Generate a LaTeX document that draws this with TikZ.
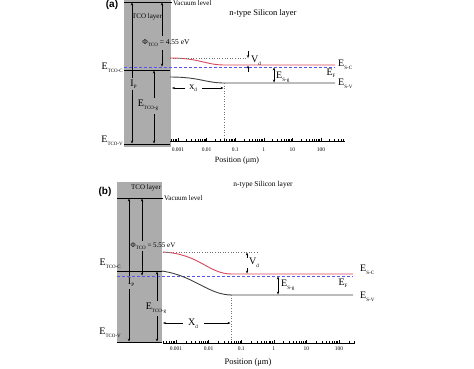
\documentclass[tikz,border=0pt]{standalone}
\usepackage{fontspec}
\setmainfont{Liberation Serif}
\newfontfamily\panelfont{Liberation Sans}
\usetikzlibrary{arrows.meta}
\definecolor{boxgray}{RGB}{172,172,172}
\definecolor{cbred}{RGB}{215,70,90}
\definecolor{fermiblue}{RGB}{85,85,240}
\newcommand\lbl[2]{#1\raisebox{-0.55ex}{\fontsize{5}{5}\selectfont #2}}
\begin{document}
\begin{tikzpicture}[x=1pt,y=-1pt,
  level/.style={line width=0.9pt},
  arr/.style={line width=0.4pt,-{Stealth[length=3pt,width=2.2pt]}},
  darr/.style={line width=0.4pt,{Stealth[length=3pt,width=2.2pt]}-{Stealth[length=3pt,width=2.2pt]}},
  cband/.style={cbred,line width=0.9pt},
  vband/.style={black!75,line width=0.9pt},
  fermi/.style={fermiblue,line width=0.8pt,dash pattern=on 3pt off 2pt},
  guide/.style={black!55,line width=0.6pt,dotted},
  txt/.style={inner sep=0pt,font=\fontsize{7}{8}\selectfont},
  elab/.style={inner sep=0pt,font=\fontsize{10}{10}\selectfont},
  ticklab/.style={inner sep=0pt,font=\fontsize{5.5}{6}\selectfont},
  axlab/.style={inner sep=0pt,font=\fontsize{8}{9}\selectfont},
  panel/.style={inner sep=0pt,font=\panelfont\bfseries\fontsize{10}{11}\selectfont}]
\useasboundingbox (0,0) rectangle (474,368);

%%%%%%%%%%%%%%%% panel (a)
\fill[boxgray] (124,0) rectangle (171,147);
\draw[level] (124,2) -- (172,2);
\draw[level] (124,70) -- (170,70);
\draw[level] (124,144) -- (170,144);
\node[panel] (pa) at (112,5) {(a)};
\node[txt,anchor=west] (vaca) at (173,3.5) {Vacuum level};
\node[txt] (tcoa) at (147,17) {TCO layer};
\node[axlab,font=\fontsize{8.5}{9}\selectfont] (sia) at (263,13) {n-type Silicon layer};
% bands
\draw[fermi] (124,67) -- (335,67);
\draw[cband] (170,58) .. controls (200,58) and (205,65) .. (225,65) -- (335,65);
\draw[vband] (170,77) .. controls (200,77) and (205,83) .. (225,83) -- (335,83);
\draw[guide] (170,58) -- (248,58);
\draw[arr] (248,51) -- (248,58);
\draw[arr] (248,72) -- (248,65.5);
\node[elab,anchor=west] (vda) at (251,61) {\lbl{V}{d}};
\draw[darr] (274,67.5) -- (274,82.5);
\node[elab,anchor=west] (esga) at (276,77) {\lbl{E}{S-g}};
\node[elab,anchor=west] (esca) at (338,65) {\lbl{E}{S-C}};
\node[elab] (efa) at (331,73) {\lbl{E}{F}};
\node[elab,anchor=west] (esva) at (338,84) {\lbl{E}{S-V}};
% x_d
\draw[guide] (224,83) -- (224,141);
\node[elab] (xda) at (193,88) {\lbl{x}{d}};
\draw[arr] (185,88) -- (172,88);
\draw[arr] (202,88) -- (223.5,88);
% TCO side
\node[elab,anchor=east] (etca) at (123,68) {\lbl{E}{TCO-C}};
\node[elab,anchor=east] (etva) at (123,141) {\lbl{E}{TCO-V}};
\draw[arr] (132,78) -- (132,2.5);
\draw[arr] (132,90) -- (132,143.5);
\node[elab] (ipa) at (133.5,84) {\lbl{I}{P}};
\draw[arr] (162,36) -- (162,2.5);
\draw[arr] (162,50) -- (162,66.5);
\node[txt,font=\fontsize{7.5}{8}\selectfont] (phia) at (166,43) {\lbl{Φ}{TCO} = 4.55 eV};
\draw[arr] (154,98) -- (154,70.5);
\draw[arr] (154,114) -- (154,143.5);
\node[elab] (etga) at (148,105) {\lbl{E}{TCO-g}};
% axis
\draw[line width=0.5pt] (170,141) -- (345,141);
\foreach \k in {-1,...,5}{
  \foreach \m in {1,...,9}{
    \pgfmathsetmacro\xx{178+28.6*(\k+log10(\m))}
    \ifdim\xx pt>170pt \ifdim\xx pt<345pt
      \ifnum\m=1 \draw[line width=0.4pt] (\xx,141) -- ++(0,-3.5);
      \else \draw[line width=0.4pt] (\xx,141) -- ++(0,-2); \fi
    \fi\fi
  }
}
\foreach \lab [count=\i from 0] in {0.001,0.01,0.1,1,10,100}
  \node[ticklab] (ta\i) at ({178+28.6*\i},150) {\lab};
\node[axlab] (posa) at (237,161) {Position (μm)};

%%%%%%%%%%%%%%%% panel (b)
\fill[boxgray] (117,182) rectangle (162,343);
\draw[level] (117,198) -- (163,198);
\draw[level] (117,271) -- (162,271);
\draw[level] (117,342) -- (162,342);
\node[panel] (pb) at (105,192) {(b)};
\node[txt,anchor=west] (vacb) at (164,198) {Vacuum level};
\node[txt] (tcob) at (146,188) {TCO layer};
\node[axlab,font=\fontsize{7.5}{8}\selectfont] (sib) at (263,185) {n-type Silicon layer};
% bands
\draw[fermi] (117,276) -- (353,276);
\draw[cband] (163,252) .. controls (200,254) and (208,274) .. (232,274) -- (353,274);
\draw[vband] (162,271) .. controls (195,276) and (208,295) .. (232,295) -- (353,295);
\draw[guide] (163,252) -- (257,252);
\draw[arr] (247,258) -- (247,252.5);
\draw[arr] (247,268) -- (247,273.5);
\node[elab,anchor=west] (vdb) at (249,263) {\lbl{V}{d}};
\draw[darr] (278,276.5) -- (278,294.5);
\node[elab,anchor=west] (esgb) at (281,285) {\lbl{E}{S-g}};
\node[elab,anchor=west] (escb) at (360,270) {\lbl{E}{S-C}};
\node[elab] (efb) at (343,283) {\lbl{E}{F}};
\node[elab,anchor=west] (esvb) at (360,297) {\lbl{E}{S-V}};
% X_d
\draw[guide] (231,295) -- (231,343);
\node[elab] (xdb) at (193,324) {\lbl{X}{d}};
\draw[arr] (183,323) -- (163,323);
\draw[arr] (204,323) -- (230.5,323);
% TCO side
\node[elab,anchor=east] (etcb) at (121,264) {\lbl{E}{TCO-C}};
\node[elab,anchor=east] (etvb) at (121,333) {\lbl{E}{TCO-V}};
\draw[arr] (129,276) -- (129,198.5);
\draw[arr] (129,289) -- (129,341.5);
\node[elab] (ipb) at (131,282) {\lbl{I}{P}};
\draw[arr] (142,241) -- (142,198.5);
\draw[arr] (142,251) -- (142,275.5);
\node[txt,font=\fontsize{7}{8}\selectfont] (phib) at (153,246) {\lbl{Φ}{TCO} = 5.55 eV};
\draw[arr] (157,301) -- (157,271.5);
\draw[arr] (157,316) -- (157,341.5);
\node[elab] (etgb) at (156,308) {\lbl{E}{TCO-g}};
% axis
\draw[line width=0.5pt] (163,343) -- (355,343);
\foreach \k in {-1,...,5}{
  \foreach \m in {1,...,9}{
    \pgfmathsetmacro\xx{176+32.6*(\k+log10(\m))}
    \ifdim\xx pt>163pt \ifdim\xx pt<355pt
      \ifnum\m=1 \draw[line width=0.4pt] (\xx,343) -- ++(0,-3.5);
      \else \draw[line width=0.4pt] (\xx,343) -- ++(0,-2); \fi
    \fi\fi
  }
}
\foreach \lab [count=\i from 0] in {0.001,0.01,0.1,1,10,100}
  \node[ticklab] (tb\i) at ({176+32.6*\i},349) {\lab};
\node[axlab,font=\fontsize{8.5}{9}\selectfont] (posb) at (248,362) {Position (μm)};
\end{tikzpicture}
\end{document}
